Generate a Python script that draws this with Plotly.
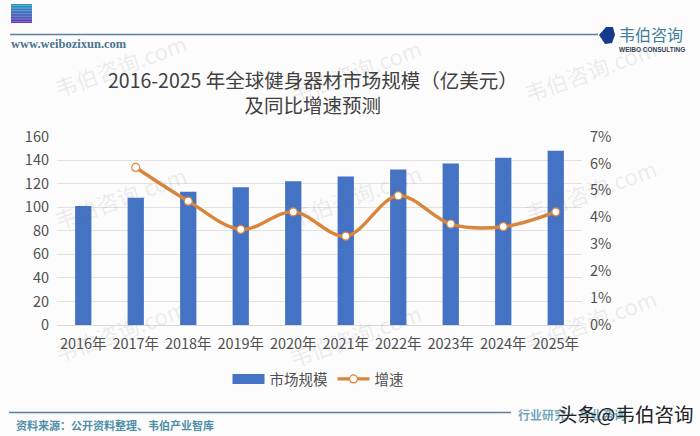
import plotly.graph_objects as go

W, H = 700, 436
years = ["2016年", "2017年", "2018年", "2019年", "2020年", "2021年", "2022年", "2023年", "2024年", "2025年"]
market_size = [101, 108, 113, 117, 122, 126, 132, 137, 142, 148]
growth_pct = [None, 5.85, 4.6, 3.55, 4.2, 3.3, 4.8, 3.75, 3.65, 4.2]
y_ticks = [0, 20, 40, 60, 80, 100, 120, 140, 160]
y2_ticks = [0, 1, 2, 3, 4, 5, 6, 7]
y2_labels = ["0%", "1%", "2%", "3%", "4%", "5%", "6%", "7%"]
watermark_spots = [(120, 65), (355, 70), (590, 70),
                   (120, 197), (355, 195), (590, 190),
                   (120, 330), (355, 335), (590, 320)]

FONT = "Noto Sans CJK SC"
BLUE = "#4472C4"
ORANGE = "#D9853B"
def px(x): return x / W
def py(y): return 1 - y / H

fig = go.Figure()
fig.add_bar(x=years, y=market_size, name="市场规模", marker=dict(color=BLUE, line=dict(width=0)),
            width=0.31, yaxis="y", showlegend=False, legendgroup="m")
# Legend key with the reference's wide bar swatch
fig.add_scatter(x=[None], y=[None], name="市场规模", mode="lines", line=dict(color=BLUE, width=10), legendgroup="m")
fig.add_scatter(x=years, y=growth_pct, name="增速", yaxis="y2", mode="lines+markers",
                line=dict(color=ORANGE, width=3.4, shape="spline", smoothing=1.0),
                marker=dict(size=8, color="white", line=dict(color=ORANGE, width=1.2)))

shapes = []
n = 12
for i in range(n):
    t = i / (n - 1)
    c = f"rgb({int(38 + t * 52)},{int(150 - t * 90)},{int(195 - t * 10)})"
    shapes.append(dict(type="rect", xref="paper", yref="paper", x0=px(11), x1=px(32),
                       y0=py(4 + (i + 1) * 19 / n), y1=py(4 + i * 19 / n), fillcolor=c, line_width=0, layer="below"))
shapes += [
    dict(type="line", xref="paper", yref="paper", x0=px(10), x1=px(598), y0=py(34.5), y1=py(34.5),
         line=dict(color="#5B7DA6", width=1.6)),
    dict(type="line", xref="paper", yref="paper", x0=px(9), x1=px(511), y0=py(412.5), y1=py(412.5),
         line=dict(color="#5B7F9F", width=1.6)),
    dict(type="path", xref="paper", yref="paper",
         path=f"M {px(599)} {py(35)} L {px(606)} {py(27)} L {px(613)} {py(27)} L {px(615)} {py(35)} "
              f"L {px(612)} {py(43)} L {px(605)} {py(44)} Z",
         fillcolor="#173A8C", line_width=0),
]

def label(text, x, y, xanchor="center", **font):
    return dict(text=text, x=px(x), y=py(y), xref="paper", yref="paper", xanchor=xanchor, yanchor="middle",
                showarrow=False, font=font)

ann = []
for x, y in watermark_spots:
    a = label("韦伯咨询.com", x, y, family=FONT, size=22, color="rgba(120,120,120,0.13)")
    a["textangle"] = -20
    ann.append(a)
ann += [
    label("2016-2025 年全球健身器材市场规模（亿美元）<br>及同比增速预测", 313, 91.5, family=FONT, size=19.5, color="#404040"),
    label("<b>www.weibozixun.com</b>", 9, 44, "left", family="Liberation Serif", size=12.5, color="#4A7390"),
    label("韦伯咨询", 617, 34, "left", family=FONT, size=16, color="#3F7F9A"),
    label("<b>WEIBO CONSULTING</b>", 617, 49, "left", family="Liberation Sans", size=6.5, color="#333F55"),
    label("<b>资料来源：公开资料整理、韦伯产业智库</b>", 14, 425, "left", family=FONT, size=11, color="#4F8FA8"),
    label("<b>行业研究·产业咨询</b>", 516, 414, "left", family=FONT, size=12, color="rgba(79,143,168,0.8)"),
    label("头条@韦伯咨询", 695, 413, "right", family=FONT, size=19.5, color="#222222"),
]

tickfont = dict(family=FONT, size=14.5, color="#505050")
fig.update_layout(
    width=W, height=H, margin=dict(l=0, r=0, t=0, b=0, autoexpand=False), autosize=False,
    paper_bgcolor="#FCFCFC", plot_bgcolor="rgba(0,0,0,0)",
    shapes=shapes, annotations=ann,
    xaxis=dict(domain=[px(57), px(582)], range=[-0.5, 9.5], tickfont=tickfont, showgrid=False, ticks="", showline=True,
               linecolor="#D9D9D9", linewidth=1, ticklabelstandoff=6),
    yaxis=dict(domain=[py(325), py(136.5)], range=[0, 160], tickvals=y_ticks, tickfont=tickfont, gridcolor="#E1E1E1",
               gridwidth=1, zeroline=False, showline=False, ticks="", ticklabelstandoff=7),
    yaxis2=dict(domain=[py(325), py(136.5)], range=[0, 7], tickvals=y2_ticks, ticktext=y2_labels, overlaying="y", side="right",
                anchor="x", tickfont=tickfont, showgrid=False, zeroline=False, showline=False, ticks="", ticklabelstandoff=7),
    legend=dict(orientation="h", x=px(318), y=py(379), xanchor="center", yanchor="middle",
                font=dict(family=FONT, size=14.5, color="#505050"), bgcolor="rgba(0,0,0,0)", itemwidth=32),
)
fig.write_html("out.html", config=dict(displayModeBar=False),
               post_script="document.body.style.margin='0';document.documentElement.style.background='#FCFCFC';")
